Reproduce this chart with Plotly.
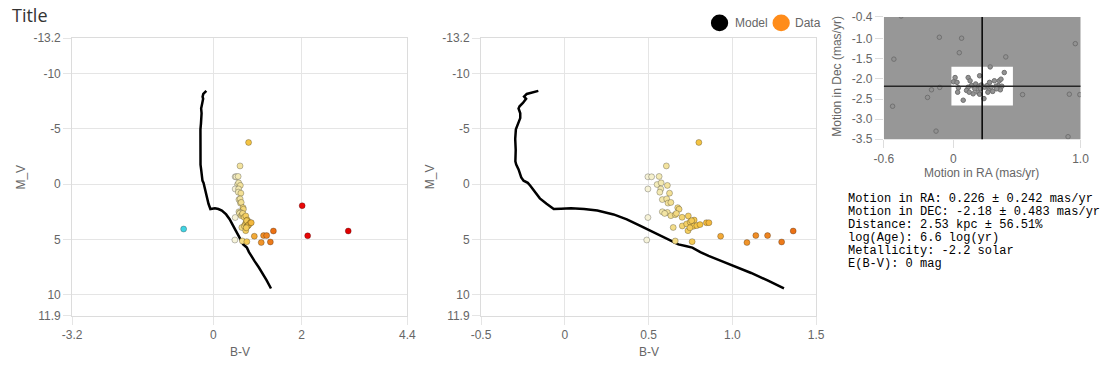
import plotly.graph_objects as go

W, H = 1101, 372

# ---------------- data ----------------
# observed stars (colour index B-V, absolute magnitude M_V)
star_bv = [0.80, 0.606, 0.496, 0.518, 0.563, 0.551, 0.575, 0.612, 0.496, 0.573,
           0.567, 0.625, 0.582, 0.608, 0.616, 0.633, 0.674, 0.682, 0.582, 0.612,
           0.596, 0.633, 0.659, 0.666, 0.700, 0.737, 0.496, 0.647, 0.701, 0.727,
           0.748, 0.772, 0.757, 0.768, 0.788, 0.807, 0.845, 0.860, 0.735, 0.747,
           0.489, 0.659, 0.760, 0.930, 1.087, 1.140, 1.210, 1.294, 1.363,
           -0.673, 2.015, 2.140, 3.060]
star_mv = [-3.77, -1.65, -0.67, -0.67, -0.70, 0.03, -0.12, 0.11, 0.43, 0.43,
           0.72, 0.81, 1.39, 1.33, 1.71, 1.65, 2.12, 2.26, 2.49, 2.55,
           2.64, 2.84, 2.75, 2.64, 2.99, 2.87, 3.01, 3.91, 3.77, 3.59,
           3.42, 3.24, 3.30, 3.80, 3.74, 3.65, 3.48, 3.48, 4.20, 3.94,
           5.04, 5.13, 5.19, 4.70, 5.27, 4.64, 4.64, 5.22, 4.23,
           4.05, 1.94, 4.66, 4.23]

# isochrone model
model_bv = [-0.158, -0.198, -0.227, -0.243, -0.231, -0.250, -0.270, -0.276, -0.266,
            -0.266, -0.280, -0.292, -0.296, -0.293, -0.295, -0.290, -0.276, -0.260,
            -0.246, -0.221, -0.207, -0.178, -0.149, -0.109, -0.066, -0.022, 0.037,
            0.115, 0.194, 0.291, 0.370, 0.448, 0.526, 0.604, 0.678, 0.721, 0.761,
            0.809, 0.858, 0.936, 1.034, 1.112, 1.210, 1.308]
model_mv = [-8.43, -8.30, -8.15, -7.91, -7.71, -7.34, -7.04, -6.84, -6.41,
            -5.97, -5.48, -4.96, -4.09, -3.08, -2.06, -1.77, -1.34, -0.61,
            -0.32, -0.12, 0.12, 0.70, 1.28, 1.77, 2.24, 2.21, 2.18,
            2.24, 2.38, 2.73, 3.17, 3.75, 4.33, 4.85, 5.44, 5.58, 5.73,
            6.13, 6.48, 6.95, 7.53, 8.02, 8.69, 9.42]

# proper motions (mas/yr)
pm_ra = [-0.412, -0.111, 0.064, -0.469, 0.046, 0.412, 0.959, -0.173, -0.204, -0.108,
         -0.479, -0.137, 0.544, 0.912, 0.995, 0.902,
         0.289, 0.400, 0.013, 0.000, 0.028, 0.116, 0.131, 0.206, 0.175, 0.142,
         0.116, 0.103, 0.124, 0.033, 0.168, 0.199, 0.219, 0.211, 0.193, 0.206,
         0.240, 0.245, 0.265, 0.284, 0.296, 0.278, 0.309, 0.322, 0.361, 0.353,
         0.335, 0.381, 0.369, 0.340, 0.077, 0.039, 0.271, 0.155, 0.374]
pm_dec = [-0.43, -0.96, -0.984, -1.506, -1.346, -1.45, -1.12, -2.27, -2.46, -2.21,
          -2.68, -3.30, -2.39, -2.38, -2.39, -3.44,
          -1.70, -1.84, -1.965, -2.07, -2.085, -1.965, -2.045, -1.92, -2.125, -2.165,
          -2.205, -2.285, -2.33, -2.33, -2.245, -2.18, -2.15, -2.245, -2.33, -2.38,
          -2.49, -2.205, -2.165, -2.085, -2.205, -2.285, -2.31, -2.045, -2.045, -2.165,
          -2.18, -2.18, -2.27, -2.245, -2.53, -2.22, -2.33, -2.37, -2.005]

ra_mean, ra_err = 0.226, 0.242
dec_mean, dec_err = -2.18, 0.483

info_lines = [
    "Motion in RA: 0.226 \u00b1 0.242 mas/yr",
    "Motion in DEC: -2.18 \u00b1 0.483 mas/yr",
    "Distance: 2.53 kpc \u00b1 56.51%",
    "log(Age): 6.6 log(yr)",
    "Metallicity: -2.2 solar",
    "E(B-V): 0 mag",
]

mv_ticks = [-13.2, -10, -5, 0, 5, 10, 11.9]
mv_ticktext = ["-13.2", "-10", "-5", "0", "5", "10", "11.9"]
bv_ticks_full = [-3.2, 0, 2, 4.4]
bv_ticktext_full = ["-3.2", "0", "2", "4.4"]
bv_ticks_zoom = [-0.5, 0, 0.5, 1.0, 1.5]
bv_ticktext_zoom = ["-0.5", "0", "0.5", "1.0", "1.5"]
ra_ticks = [-0.547, 0, 1.0]
ra_ticktext = ["-0.6", "0", "1.0"]
dec_ticks = [-3.5, -3.0, -2.5, -2.0, -1.5, -1.0, -0.453]
dec_ticktext = ["-3.5", "-3.0", "-2.5", "-2.0", "-1.5", "-1.0", "-0.4"]

# ---------------- helpers ----------------
def px(x):
    return x / W

def py(y):
    return 1 - y / H

FONT = "Liberation Sans, Arial, sans-serif"
GRAY = "#666666"
GRID = "#e5e5e5"

star_colorscale = [
    [0.0, "#3ed3e3"],
    [0.3026, "#f8f7ee"],
    [0.3289, "#f3ecbc"],
    [0.3553, "#f3dc88"],
    [0.3947, "#f4c444"],
    [0.4342, "#f2a535"],
    [0.4868, "#ef8c25"],
    [0.5526, "#ea6c12"],
    [0.7105, "#e80808"],
    [1.0, "#e00000"],
]

fig = go.Figure()

for xa, ya in (("x", "y"), ("x2", "y2")):
    fig.add_trace(go.Scatter(
        x=model_bv, y=model_mv, mode="lines", xaxis=xa, yaxis=ya,
        line=dict(color="black", width=2.5), showlegend=False, hoverinfo="skip"))
    fig.add_trace(go.Scatter(
        x=star_bv, y=star_mv, mode="markers", xaxis=xa, yaxis=ya,
        marker=dict(size=6, color=star_bv, colorscale=star_colorscale,
                    cmin=-0.7, cmax=3.1, line=dict(width=1, color="rgba(0,0,0,0.25)")),
        showlegend=False))

fig.add_trace(go.Scatter(
    x=pm_ra, y=pm_dec, mode="markers", xaxis="x3", yaxis="y3",
    marker=dict(size=4.5, color="#929292", line=dict(width=1, color="#707070")),
    showlegend=False))

cmd_x_common = dict(showgrid=True, gridcolor=GRID, zeroline=False, showline=True,
                    mirror=True, linecolor="#dcdcdc", ticks="outside", ticklen=8,
                    tickcolor=GRID, tickfont=dict(family=FONT, size=12, color=GRAY),
                    tickmode="array")

fig.update_layout(
    width=W, height=H, margin=dict(l=0, r=0, t=0, b=0),
    paper_bgcolor="white", plot_bgcolor="white",
    xaxis=dict(domain=[px(63.3), px(404.3)], range=[-3.2, 4.4], anchor="y",
               tickvals=bv_ticks_full, ticktext=bv_ticktext_full, **cmd_x_common),
    yaxis=dict(domain=[py(321), py(32.3)], range=[11.9, -13.2], anchor="x",
               tickvals=mv_ticks, ticktext=mv_ticktext, **cmd_x_common),
    xaxis2=dict(domain=[px(479.3), px(820.3)], range=[-0.5, 1.5], anchor="y2",
                tickvals=bv_ticks_zoom, ticktext=bv_ticktext_zoom, **cmd_x_common),
    yaxis2=dict(domain=[py(321), py(32.3)], range=[11.9, -13.2], anchor="x2",
                tickvals=mv_ticks, ticktext=mv_ticktext, **cmd_x_common),
    xaxis3=dict(domain=[px(889.3), px(1089.3)], range=[-0.547, 1.0], anchor="y3",
                tickmode="array", tickvals=ra_ticks, ticktext=ra_ticktext,
                showgrid=False, zeroline=False, showline=False, ticks="outside",
                ticklen=8, tickcolor="#dddddd",
                tickfont=dict(family=FONT, size=12, color=GRAY)),
    yaxis3=dict(domain=[py(137.3), py(10.3)], range=[-3.5, -0.453], anchor="x3",
                tickmode="array", tickvals=dec_ticks, ticktext=dec_ticktext,
                showgrid=False, zeroline=False, showline=False, ticks="outside",
                ticklen=8, tickcolor="#dddddd",
                tickfont=dict(family=FONT, size=12, color=GRAY)),
    showlegend=False,
)

shapes = []
# grey background of proper-motion panel
shapes.append(dict(type="rect", xref="x3 domain", yref="y3 domain", x0=0, x1=1, y0=0, y1=1,
                   fillcolor="#979797", line=dict(width=0), layer="below"))
shapes.append(dict(type="rect", xref="x3", yref="y3",
                   x0=ra_mean - ra_err, x1=ra_mean + ra_err,
                   y0=dec_mean - dec_err, y1=dec_mean + dec_err,
                   fillcolor="white", line=dict(width=0), layer="below"))
shapes.append(dict(type="line", xref="x3", yref="y3 domain", x0=ra_mean, x1=ra_mean,
                   y0=0, y1=1, line=dict(color="#000000", width=1.5)))
shapes.append(dict(type="line", xref="x3 domain", yref="y3", x0=0, x1=1,
                   y0=dec_mean, y1=dec_mean, line=dict(color="#262626", width=1.5)))

# legend circles
legend_items = [("Model", "#000000", 722.0, 736.5), ("Data", "#ff8c1a", 784.7, 797.3)]
for name, col, cx, tx in legend_items:
    r = 8.8
    shapes.append(dict(type="circle", xref="paper", yref="paper",
                       x0=px(cx - r), x1=px(cx + r), y0=py(16.5 + r), y1=py(16.5 - r),
                       fillcolor=col, line=dict(width=0)))
fig.update_layout(shapes=shapes)

ann = []
ann.append(dict(text="Title", x=px(0), y=py(8), xref="paper", yref="paper",
                xanchor="left", yanchor="middle", showarrow=False,
                font=dict(family="Open Sans, sans-serif", size=18, color="#333333")))
for name, col, cx, tx in legend_items:
    ann.append(dict(text=name, x=px(tx - 1), y=py(16.5), xref="paper", yref="paper",
                    xanchor="left", yanchor="middle", showarrow=False,
                    font=dict(family=FONT, size=12, color=GRAY)))
# axis titles
for cx in (233.8, 649.8):
    ann.append(dict(text="B-V", x=px(cx), y=py(359), xref="paper", yref="paper",
                    xanchor="center", yanchor="middle", showarrow=False,
                    font=dict(family=FONT, size=12, color=GRAY)))
for cx in (11.7, 427.5):
    ann.append(dict(text="M_V", x=px(cx), y=py(176.7), xref="paper", yref="paper",
                    xanchor="center", yanchor="middle", showarrow=False, textangle=-90,
                    font=dict(family=FONT, size=12, color=GRAY)))
ann.append(dict(text="Motion in Dec (mas/yr)", x=px(842), y=py(72), xref="paper",
                yref="paper", xanchor="center", yanchor="middle", showarrow=False,
                textangle=-90, font=dict(family=FONT, size=12, color=GRAY)))
ann.append(dict(text="Motion in RA (mas/yr)", x=px(989), y=py(173), xref="paper",
                yref="paper", xanchor="center", yanchor="middle", showarrow=False,
                font=dict(family=FONT, size=12, color=GRAY)))
for i, line in enumerate(info_lines):
    ann.append(dict(text=line, x=px(851), y=py(199 + 13.6 * i), xref="paper",
                    yref="paper", xanchor="left", yanchor="middle", showarrow=False,
                    font=dict(family="Liberation Mono, monospace", size=12, color="#000000")))
fig.update_layout(annotations=ann)

fig.write_html("out.html", config={"displayModeBar": False},
               post_script="document.body.style.margin='0';document.body.style.overflow='hidden';")
